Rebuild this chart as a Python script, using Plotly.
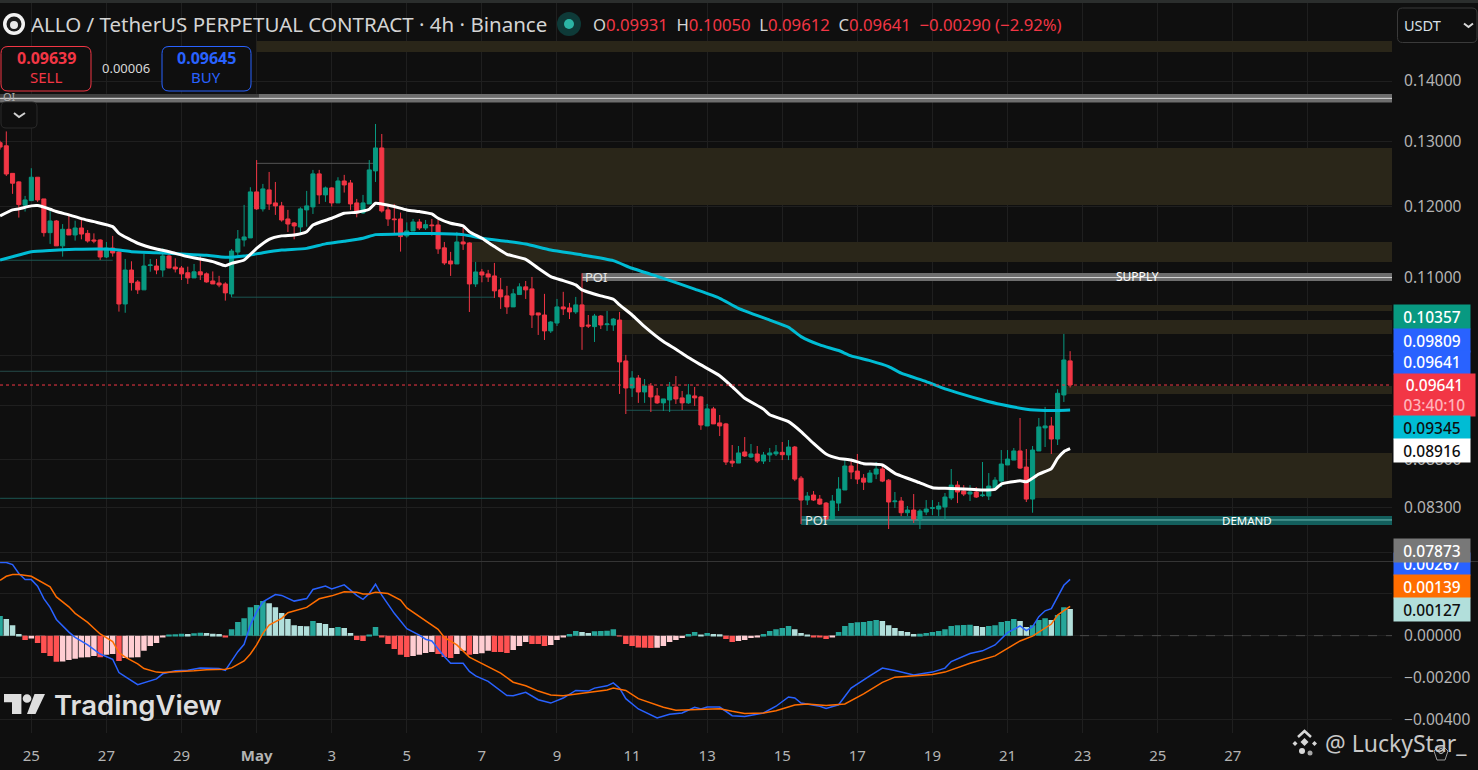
import numpy as np
import pandas as pd
import plotly.graph_objects as go

W, H = 1478, 770

# -----------------------------
# OHLC, 4h bars
# -----------------------------
opens = [
    0.1298, 0.1293, 0.1250, 0.1237, 0.12021, 0.12089, 0.12441, 0.12114, 0.11623, 0.11791,
    0.11436, 0.11671, 0.1159, 0.1169, 0.11613, 0.11519, 0.11519, 0.11281, 0.11406, 0.1135,
    0.10649, 0.11102, 0.10941, 0.10835, 0.11164, 0.11157, 0.11102, 0.11295, 0.11143, 0.1113,
    0.11065, 0.10995, 0.11078, 0.1105, 0.10954, 0.10927, 0.10914, 0.10781, 0.1135, 0.11519,
    0.11548, 0.12219, 0.11967, 0.12249, 0.12055, 0.12011, 0.1182, 0.11762, 0.11704, 0.11952,
    0.11996, 0.12492, 0.12174, 0.12279, 0.12055, 0.12384, 0.12354, 0.12055, 0.11908, 0.1204,
    0.12538, 0.12896, 0.11952, 0.1182, 0.1182, 0.11577, 0.11647, 0.11776, 0.1169, 0.11733,
    0.11733, 0.11408, 0.11226, 0.11185, 0.11491, 0.11477, 0.10914, 0.11076, 0.11049, 0.11022,
    0.10835, 0.10755, 0.10611, 0.10773, 0.10875, 0.10848, 0.10533, 0.10506, 0.10303, 0.10403,
    0.10611, 0.10598, 0.10546, 0.10637, 0.10378, 0.10357, 0.10493, 0.10382, 0.10378, 0.10441,
    0.0993, 0.09606, 0.09724, 0.09559, 0.0963, 0.09513, 0.09432, 0.09466, 0.09618, 0.0949,
    0.09432, 0.09513, 0.09501, 0.09169, 0.09363, 0.09203, 0.09192, 0.08782, 0.08761, 0.08881,
    0.08826, 0.08859, 0.08782, 0.08848, 0.0886, 0.08877, 0.08848, 0.08935, 0.086, 0.08372,
    0.08424, 0.08382, 0.08341, 0.08179, 0.08341, 0.08476, 0.08729, 0.08675, 0.086, 0.08558,
    0.08643, 0.08697, 0.08579, 0.08355, 0.08362, 0.08243, 0.0827, 0.08179, 0.0825, 0.08287,
    0.0828, 0.08301, 0.08393, 0.08527, 0.08465, 0.08434, 0.08455, 0.08417, 0.08413, 0.08496,
    0.08569, 0.0874, 0.08793, 0.08892, 0.08718, 0.08382, 0.08892, 0.09147, 0.09169, 0.09023,
    0.09524, 0.09931,
]
highs = [
    0.1301, 0.1316, 0.1250, 0.1238, 0.12159, 0.12579, 0.12441, 0.12114, 0.11942, 0.11805,
    0.11746, 0.11898, 0.11795, 0.11805, 0.11661, 0.11613, 0.11528, 0.11491, 0.11577, 0.11387,
    0.11254, 0.11222, 0.10967, 0.11323, 0.11254, 0.11254, 0.11401, 0.1136, 0.11263, 0.11157,
    0.11148, 0.11185, 0.11309, 0.11069, 0.11083, 0.11023, 0.10936, 0.11392, 0.11661, 0.12026,
    0.12289, 0.12706, 0.12339, 0.12522, 0.12369, 0.1207, 0.11952, 0.11776, 0.11991, 0.12234,
    0.12553, 0.12553, 0.12299, 0.12289, 0.12441, 0.12477, 0.12399, 0.12114, 0.12174, 0.12706,
    0.13281, 0.13119, 0.12025, 0.1204, 0.11913, 0.11771, 0.1182, 0.1182, 0.11805, 0.1182,
    0.11805, 0.11491, 0.11352, 0.11633, 0.1169, 0.11486, 0.11213, 0.11117, 0.11104, 0.11199,
    0.10994, 0.10888, 0.10848, 0.10923, 0.10954, 0.11008, 0.10533, 0.10782, 0.10428, 0.10715,
    0.10809, 0.10663, 0.10742, 0.11058, 0.10506, 0.1052, 0.10506, 0.10559, 0.10467, 0.10546,
    0.10004, 0.09808, 0.0976, 0.09712, 0.09665, 0.09606, 0.09478, 0.09677, 0.09748, 0.09571,
    0.09653, 0.09618, 0.09513, 0.0942, 0.09386, 0.09293, 0.09203, 0.08957, 0.08946, 0.09045,
    0.08968, 0.08946, 0.08881, 0.08924, 0.08957, 0.0899, 0.09012, 0.08946, 0.08622, 0.08455,
    0.08465, 0.08424, 0.08352, 0.08424, 0.08611, 0.08793, 0.08793, 0.08859, 0.08643, 0.08686,
    0.08772, 0.0874, 0.0859, 0.08455, 0.08403, 0.08311, 0.08434, 0.0828, 0.08372, 0.08372,
    0.08352, 0.08445, 0.08697, 0.08569, 0.08527, 0.08527, 0.08507, 0.08772, 0.08654, 0.08611,
    0.08902, 0.08902, 0.08924, 0.09259, 0.08913, 0.08946, 0.09259, 0.09386, 0.0927, 0.09591,
    0.10265, 0.1005,
]
lows = [
    0.1287, 0.1246, 0.1219, 0.1184, 0.11928, 0.12089, 0.1207, 0.11567, 0.11464, 0.11436,
    0.11286, 0.1159, 0.1151, 0.11528, 0.11482, 0.11473, 0.1124, 0.11267, 0.11286, 0.1055,
    0.10535, 0.10825, 0.10781, 0.10835, 0.11079, 0.11045, 0.1101, 0.11125, 0.11069, 0.10967,
    0.10914, 0.10995, 0.10967, 0.10932, 0.10914, 0.1087, 0.10693, 0.10737, 0.11309, 0.11427,
    0.11548, 0.11952, 0.11928, 0.11952, 0.11879, 0.11781, 0.11632, 0.11528, 0.11599, 0.11709,
    0.11893, 0.1204, 0.1207, 0.12001, 0.12055, 0.12209, 0.11952, 0.11844, 0.11893, 0.1204,
    0.12369, 0.11913, 0.11719, 0.11615, 0.11356, 0.11553, 0.11647, 0.11661, 0.11661, 0.11581,
    0.11324, 0.11172, 0.11022, 0.11185, 0.11379, 0.10545, 0.10874, 0.10936, 0.10941, 0.10728,
    0.10585, 0.1052, 0.10611, 0.10773, 0.10715, 0.1034, 0.10252, 0.10189, 0.10277, 0.10365,
    0.10506, 0.10454, 0.1052, 0.10066, 0.1034, 0.10164, 0.10327, 0.10303, 0.10303, 0.09536,
    0.09304, 0.09501, 0.09432, 0.09432, 0.09327, 0.0942, 0.0934, 0.09327, 0.0942, 0.0935,
    0.0942, 0.09397, 0.09125, 0.09169, 0.09192, 0.09056, 0.0874, 0.08718, 0.08761, 0.08826,
    0.08815, 0.08761, 0.08751, 0.08772, 0.08837, 0.08793, 0.08793, 0.08569, 0.08129, 0.08321,
    0.08362, 0.08321, 0.08169, 0.08179, 0.0826, 0.08476, 0.0859, 0.08538, 0.08476, 0.08558,
    0.0859, 0.08558, 0.0808, 0.08291, 0.08209, 0.08209, 0.0814, 0.0808, 0.08219, 0.08219,
    0.08209, 0.08169, 0.08372, 0.08341, 0.08413, 0.08362, 0.08393, 0.08403, 0.08372, 0.08496,
    0.08507, 0.0874, 0.08793, 0.08697, 0.08352, 0.08243, 0.08892, 0.08935, 0.08859, 0.08957,
    0.09443, 0.09612,
]
closes = [
    0.1291, 0.1249, 0.1235, 0.1203, 0.12099, 0.12441, 0.12099, 0.11623, 0.11791, 0.11436,
    0.11671, 0.1159, 0.1169, 0.11603, 0.11505, 0.11505, 0.11281, 0.11406, 0.11337, 0.10649,
    0.11102, 0.10932, 0.10835, 0.11157, 0.11171, 0.11102, 0.11295, 0.1113, 0.11116, 0.1105,
    0.10995, 0.11078, 0.11037, 0.10941, 0.10914, 0.109, 0.10795, 0.11364, 0.11533, 0.11562,
    0.12219, 0.11967, 0.12264, 0.1204, 0.12011, 0.11805, 0.11747, 0.11719, 0.11967, 0.12011,
    0.12492, 0.12174, 0.12279, 0.12055, 0.12384, 0.12324, 0.1204, 0.11908, 0.12055, 0.12553,
    0.12896, 0.11937, 0.1182, 0.1181, 0.11567, 0.11647, 0.11776, 0.1169, 0.11738, 0.11723,
    0.11394, 0.11199, 0.11185, 0.11491, 0.11463, 0.10914, 0.11076, 0.11035, 0.11008, 0.10822,
    0.10742, 0.10611, 0.10782, 0.10875, 0.10835, 0.10506, 0.10506, 0.10303, 0.10416, 0.10611,
    0.10585, 0.10546, 0.10637, 0.10357, 0.10365, 0.10493, 0.10378, 0.10391, 0.10454, 0.09918,
    0.09606, 0.09724, 0.09559, 0.0963, 0.09501, 0.09432, 0.09478, 0.09618, 0.09478, 0.09432,
    0.09525, 0.0949, 0.0918, 0.09363, 0.09192, 0.09169, 0.08772, 0.08761, 0.0887, 0.08837,
    0.08859, 0.08782, 0.08848, 0.0887, 0.08881, 0.08851, 0.08935, 0.0859, 0.08372, 0.08413,
    0.08372, 0.08331, 0.08179, 0.08362, 0.08486, 0.08729, 0.08665, 0.0859, 0.08558, 0.08654,
    0.08697, 0.08569, 0.08352, 0.08362, 0.08243, 0.0827, 0.08179, 0.0826, 0.0828, 0.08294,
    0.08311, 0.08403, 0.08527, 0.08455, 0.08434, 0.08455, 0.08403, 0.08424, 0.08517, 0.08579,
    0.0875, 0.08804, 0.08892, 0.08707, 0.08382, 0.08902, 0.09158, 0.09169, 0.09023, 0.09544,
    0.09942, 0.09641,
]

# moving averages: bar index + value at the bends of each line
white_bars = [0, 2, 3, 5, 6, 8, 9, 11, 13, 15, 18, 19, 22, 25, 27, 30, 34, 36, 37, 39,
              41, 43, 45, 47, 49, 50, 53, 55, 57, 59, 60, 61, 63, 65, 67, 69, 70, 72, 74, 75,
              77, 79, 81, 84, 86, 88, 90, 92, 93, 96, 98, 99, 101, 103, 106, 108, 110, 112, 115, 117,
              119, 122, 123, 126, 128, 130, 132, 134, 136, 138, 141, 143, 147, 149, 151, 155, 157, 159, 160, 163,
              164, 166, 168, 169, 170, 171]
white_vals = [0.11864, 0.11952, 0.11967, 0.12011, 0.12016, 0.11962, 0.11928, 0.11879, 0.11825, 0.11781,
              0.11709, 0.11613, 0.11473, 0.11392, 0.11355, 0.11286, 0.11217, 0.11162, 0.11194, 0.1124,
              0.11401, 0.11528, 0.11577, 0.1159, 0.11637, 0.11733, 0.1183, 0.11903, 0.11918, 0.11962,
              0.1205, 0.1204, 0.12001, 0.11952, 0.11928, 0.11893, 0.1183, 0.11757, 0.11719, 0.11637,
              0.11543, 0.11426, 0.11319, 0.11249, 0.11126, 0.11013, 0.10958, 0.10901, 0.10835, 0.10755,
              0.10711, 0.10637, 0.10506, 0.10357, 0.10169, 0.10074, 0.09971, 0.09882, 0.09752, 0.09622,
              0.09485, 0.0936, 0.09295, 0.09217, 0.09106, 0.08975, 0.08859, 0.08811, 0.08793, 0.08754,
              0.0874, 0.08651, 0.08551, 0.085, 0.08493, 0.08483, 0.08476, 0.08483, 0.08538, 0.08572,
              0.08562, 0.08643, 0.08701, 0.08811, 0.08884, 0.08916]
cyan_bars = [0, 3, 5, 8, 12, 16, 19, 21, 25, 29, 33, 36, 39, 42, 45, 49, 52, 55, 58, 60,
             64, 65, 69, 74, 77, 81, 84, 88, 93, 98, 101, 106, 111, 115, 118, 123, 126, 128, 131, 134,
             136, 139, 142, 144, 148, 151, 154, 157, 160, 164, 167, 169, 171]
cyan_vals = [0.1124, 0.11309, 0.11355, 0.11373, 0.11387, 0.11392, 0.11378, 0.11355, 0.11341, 0.11323,
             0.11304, 0.11277, 0.11295, 0.11341, 0.11378, 0.11401, 0.11464, 0.11501, 0.11543, 0.11595,
             0.11603, 0.1161, 0.1161, 0.11595, 0.11543, 0.11501, 0.11463, 0.11379, 0.1131, 0.11231,
             0.11126, 0.1099, 0.10845, 0.10724, 0.10593, 0.10441, 0.10349, 0.10231, 0.10127, 0.10058,
             0.09992, 0.09934, 0.09862, 0.09782, 0.09681, 0.09595, 0.09528, 0.09466, 0.09413, 0.0936,
             0.09345, 0.09345, 0.0935]

# -----------------------------
# MACD pane
# -----------------------------
macd_hist = [
    0.00093, 0.00079, 0.0005, 0.00008, -0.0002, -0.00014, -0.00035, -0.00082, -0.00096, -0.00124,
    -0.00123, -0.00115, -0.0011, -0.00104, -0.00102, -0.00096, -0.00102, -0.00091, -0.00087, -0.0012,
    -0.00106, -0.00104, -0.00102, -0.00072, -0.00049, -0.00035, -0.00008, 0.00002, 0.00007, 0.00009,
    0.00008, 0.00012, 0.00014, 0.00013, 0.00009, 0.00008, -0.00006, 0.00031, 0.00065, 0.00083,
    0.00135, 0.00145, 0.00164, 0.00154, 0.00135, 0.00107, 0.00079, 0.0005, 0.00046, 0.00045,
    0.00069, 0.0006, 0.00055, 0.00036, 0.00041, 0.00036, 0.00013, -0.0002, -0.00025, 0.00003,
    0.00041, -0.00006, -0.00039, -0.00063, -0.00091, -0.00101, -0.00096, -0.00091, -0.00082, -0.00077,
    -0.00087, -0.00101, -0.00106, -0.00087, -0.00072, -0.00091, -0.00087, -0.00083, -0.00072, -0.00077,
    -0.00078, -0.00082, -0.00068, -0.00049, -0.0003, -0.00039, -0.0004, -0.00049, -0.00044, -0.0002,
    -0.00008, 0.00008, 0.00022, 0.00017, 0.00013, 0.00021, 0.00022, 0.00023, 0.00031, -0.00002,
    -0.00039, -0.00049, -0.00056, -0.00057, -0.00058, -0.00057, -0.00049, -0.0003, -0.0002, -0.00011,
    0.00008, 0.00017, 0.00003, 0.00013, 0.00008, 0.00007, -0.00016, -0.0003, -0.00025, -0.0002,
    -0.00011, -0.00006, 0.00008, 0.00022, 0.00031, 0.00036, 0.00046, 0.00031, 0.00013, 0.00003,
    -0.00006, -0.00007, -0.00016, -0.00006, 0.00017, 0.00046, 0.0006, 0.00064, 0.00065, 0.00069,
    0.00074, 0.00069, 0.0005, 0.00036, 0.00022, 0.00017, 0.00008, 0.00009, 0.00013, 0.00017,
    0.00022, 0.00031, 0.00046, 0.0005, 0.00051, 0.00052, 0.00046, 0.00041, 0.00046, 0.0005,
    0.00065, 0.00069, 0.00079, 0.00069, 0.00041, 0.0005, 0.00074, 0.00083, 0.00074, 0.00098,
    0.00135, 0.00127,
]
macd_bars = [0, 1, 2, 3, 4, 5, 6, 7, 8, 9, 11, 12, 14, 16, 18, 19, 20, 22, 25, 26,
             28, 30, 32, 35, 36, 38, 39, 40, 41, 42, 44, 45, 47, 49, 50, 52, 53, 55, 57, 58,
             59, 60, 61, 63, 65, 67, 68, 69, 71, 72, 74, 75, 76, 78, 81, 82, 84, 86, 88, 90,
             92, 94, 95, 97, 98, 99, 100, 102, 105, 107, 109, 111, 112, 113, 115, 117, 119, 122, 124, 126,
             127, 128, 131, 132, 134, 136, 139, 141, 143, 146, 149, 151, 152, 155, 157, 159, 161, 163, 164, 165,
             166, 167, 168, 169, 170, 171]
macd_vals = [0.00347, 0.00347, 0.00337, 0.00295, 0.00266, 0.00266, 0.00235, 0.00176, 0.00134, 0.00077,
             0.00017, -0.00008, -0.00044, -0.00087, -0.00112, -0.00175, -0.00194, -0.00233, -0.00205, -0.00181,
             -0.00167, -0.00164, -0.00154, -0.00156, -0.00165, -0.00076, -0.00041, 0.0005, 0.00113, 0.00161,
             0.00195, 0.00191, 0.00164, 0.00176, 0.00219, 0.00235, 0.00222, 0.00241, 0.00191, 0.00172,
             0.002, 0.00244, 0.00192, 0.00106, 0.00033, 0.00003, -0.00017, -0.00025, -0.00099, -0.00131,
             -0.00131, -0.0017, -0.00191, -0.00217, -0.00284, -0.00285, -0.00269, -0.00304, -0.0032, -0.00296,
             -0.0026, -0.00263, -0.00249, -0.00238, -0.00224, -0.00249, -0.00299, -0.00348, -0.00391, -0.00373,
             -0.00367, -0.0034, -0.00348, -0.00339, -0.00339, -0.0038, -0.00384, -0.00367, -0.00335, -0.00291,
             -0.00296, -0.0032, -0.00335, -0.00345, -0.00328, -0.00249, -0.00191, -0.00154, -0.00165, -0.00187,
             -0.00173, -0.00154, -0.00123, -0.00085, -0.00072, -0.00044, 0.00014, 0.00046, 0.00024, 0.00043,
             0.0009, 0.00118, 0.00128, 0.00184, 0.00239, 0.00267]
signal_bars = [0, 1, 2, 3, 5, 6, 8, 9, 11, 12, 14, 15, 16, 18, 19, 20, 22, 23, 25, 26,
               29, 31, 33, 36, 37, 39, 40, 41, 42, 43, 45, 46, 49, 51, 53, 55, 57, 58, 59, 60,
               62, 64, 65, 68, 70, 71, 73, 75, 78, 80, 82, 84, 86, 88, 90, 92, 94, 97, 98, 100,
               102, 106, 108, 111, 115, 117, 119, 122, 124, 127, 129, 132, 135, 138, 141, 143, 146, 149, 151, 155,
               159, 163, 165, 168, 169, 171]
signal_vals = [0.00263, 0.00282, 0.0029, 0.0029, 0.00282, 0.00266, 0.00232, 0.00184, 0.00137, 0.00106,
               0.00063, 0.00035, 0.00008, -0.00028, -0.0008, -0.00102, -0.00134, -0.00156, -0.00173, -0.00175,
               -0.00172, -0.00167, -0.00162, -0.00159, -0.00153, -0.0012, -0.00087, -0.00044, 0.00011, 0.0005,
               0.00082, 0.00109, 0.00134, 0.00175, 0.00189, 0.00208, 0.00206, 0.00198, 0.00198, 0.00206,
               0.002, 0.00169, 0.00132, 0.00069, 0.0003, -0.00008, -0.00044, -0.00102, -0.00146, -0.00178,
               -0.00221, -0.00238, -0.00263, -0.00282, -0.00285, -0.00277, -0.00272, -0.00258, -0.00249, -0.0026,
               -0.00299, -0.0034, -0.00354, -0.00351, -0.00347, -0.00359, -0.00369, -0.00367, -0.00356, -0.00329,
               -0.00324, -0.00331, -0.00324, -0.00276, -0.00222, -0.00197, -0.00189, -0.00184, -0.00173, -0.00131,
               -0.00096, -0.00025, -0.00002, 0.00055, 0.00098, 0.00139]

# -----------------------------
# drawn zones and levels
# -----------------------------
zone_bars = [41, 61, 75, 93, 99, 170, 165]
zone_low = [0.14507, 0.12024, 0.11213, 0.10559, 0.10265, 0.09536, 0.08393]
zone_high = [0.14704, 0.12895, 0.1149, 0.10637, 0.10441, 0.0963, 0.08869]

level_price = [0.12655, 0.11236, 0.10738, 0.09805, 0.09347, 0.0839]
level_from = [41, 0, 37, 0, 100, 0]
level_to = [60, 18, 79, 99, 112, 128]
level_color = ["#555555", "#1b5552", "#1b5552", "#254b4a", "#1b5552", "#1b5552"]

price_ticks = [0.14, 0.13, 0.12, 0.11, 0.10, 0.094, 0.088, 0.083, 0.0785]
price_labels = ["0.14000", "0.13000", "0.12000", "0.11000", "", "", "0.08800", "0.08300", ""]
macd_ticks = [0.002, 0, -0.002, -0.004]
macd_labels = ["", "0.00000", "\u22120.00200", "\u22120.00400"]
date_ticks = ["2026-04-25", "2026-04-27", "2026-04-29", "2026-05-01", "2026-05-03", "2026-05-05",
              "2026-05-07", "2026-05-09", "2026-05-11", "2026-05-13", "2026-05-15", "2026-05-17",
              "2026-05-19", "2026-05-21", "2026-05-23", "2026-05-25", "2026-05-27", "2026-05-29"]
date_labels = ["25", "27", "29", "<b>May</b>", "3", "5", "7", "9", "11", "13", "15", "17",
               "19", "21", "23", "25", "27", ""]

BG = "#0f0f0f"
GRID = "#1f1f1f"
UP = "#089981"
DOWN = "#f23645"
FONT = "Noto Sans"

times = pd.date_range("2026-04-24 04:00", periods=len(opens), freq="4h")
x_range = ["2026-04-24 03:58", "2026-05-31 05:45"]


def px(x):
    return x / W


def py(y):
    return 1 - y / H


def hist_colors(values):
    colors = []
    prev = None
    for v in values:
        rising = prev is None or v > prev
        if v >= 0:
            colors.append("#26a69a" if rising else "#b2dfdb")
        else:
            colors.append("#ffcdd2" if rising else "#ff5252")
        prev = v
    return colors


def round_box(x0, y0, x1, y1, r):
    return (f"M {px(x0 + r)} {py(y0)} L {px(x1 - r)} {py(y0)} Q {px(x1)} {py(y0)} {px(x1)} {py(y0 + r)} "
            f"L {px(x1)} {py(y1 - r)} Q {px(x1)} {py(y1)} {px(x1 - r)} {py(y1)} "
            f"L {px(x0 + r)} {py(y1)} Q {px(x0)} {py(y1)} {px(x0)} {py(y1 - r)} "
            f"L {px(x0)} {py(y0 + r)} Q {px(x0)} {py(y0)} {px(x0 + r)} {py(y0)} Z")


def poly(points):
    return "M " + " L ".join(f"{px(x)} {py(y)}" for x, y in points)


fig = go.Figure()

fig.add_trace(go.Candlestick(
    x=times, open=opens, high=highs, low=lows, close=closes,
    increasing=dict(line=dict(color=UP, width=1), fillcolor=UP),
    decreasing=dict(line=dict(color=DOWN, width=1), fillcolor=DOWN),
    whiskerwidth=0, hoverinfo="skip", xaxis="x", yaxis="y",
))
fig.add_trace(go.Scatter(x=times[cyan_bars], y=cyan_vals, mode="lines",
                         line=dict(color="#00bcd4", width=3, shape="spline", smoothing=0.5),
                         hoverinfo="skip", xaxis="x", yaxis="y"))
fig.add_trace(go.Scatter(x=times[white_bars], y=white_vals, mode="lines",
                         line=dict(color="#ffffff", width=3, shape="spline", smoothing=0.5),
                         hoverinfo="skip", xaxis="x", yaxis="y"))

fig.add_trace(go.Bar(x=times, y=macd_hist, marker=dict(color=hist_colors(macd_hist), line_width=0),
                     hoverinfo="skip", xaxis="x2", yaxis="y2"))
fig.add_trace(go.Scatter(x=times[macd_bars], y=macd_vals, mode="lines", line=dict(color="#2962ff", width=1.5),
                         hoverinfo="skip", xaxis="x2", yaxis="y2"))
fig.add_trace(go.Scatter(x=times[signal_bars], y=signal_vals, mode="lines", line=dict(color="#ff6d00", width=1.5),
                         hoverinfo="skip", xaxis="x2", yaxis="y2"))

shapes = []
for bar, low, high in zip(zone_bars, zone_low, zone_high):
    shapes.append(dict(type="rect", xref="x", yref="y", x0=times[bar], x1=x_range[1], y0=low, y1=high,
                       fillcolor="#2a2619", line_width=0, layer="between"))
for price, start, end, color in zip(level_price, level_from, level_to, level_color):
    shapes.append(dict(type="line", xref="x", yref="y", x0=times[start], x1=times[end], y0=price, y1=price,
                       line=dict(color=color, width=1), layer="between"))

# thick POI bands
for bar, low, mid, high, fill, stroke in [
    (0, 0.13635, 0.13705, 0.1378, "#6e6e6e", "#d8d8d8"),
    (93, 0.10954, 0.1100, 0.11061, "#6e6e6e", "#d8d8d8"),
    (128, 0.0812, 0.0817, 0.0821, "#135f5d", "#6fbab4"),
]:
    shapes.append(dict(type="rect", xref="x", yref="y", x0=times[bar], x1=x_range[1], y0=low, y1=high,
                       fillcolor=fill, line_width=0, layer="between"))
    shapes.append(dict(type="line", xref="x", yref="y", x0=times[bar], x1=x_range[1], y0=mid, y1=mid,
                       line=dict(color=stroke, width=1), layer="between"))

# last price line and MACD zero line
shapes.append(dict(type="line", xref="x", yref="y", x0=x_range[0], x1=x_range[1], y0=0.09641, y1=0.09641,
                   line=dict(color=DOWN, width=1, dash="dot")))
shapes.append(dict(type="line", xref="x2", yref="y2", x0=x_range[0], x1=x_range[1], y0=0, y1=0,
                   line=dict(color="#4a4a4a", width=1, dash="dash"), layer="between"))


def box(x0, y0, x1, y1, fill="rgba(0,0,0,0)", line="rgba(0,0,0,0)", width=1):
    shapes.append(dict(type="rect", xref="paper", yref="paper", x0=px(x0), x1=px(x1), y0=py(y0), y1=py(y1),
                       fillcolor=fill, line=dict(color=line, width=width)))


def outline(path, fill="rgba(0,0,0,0)", line="rgba(0,0,0,0)", width=1):
    shapes.append(dict(type="path", xref="paper", yref="paper", path=path, fillcolor=fill,
                       line=dict(color=line, width=width)))


def circle(cx, cy, rx, fill, line="rgba(0,0,0,0)", width=0):
    shapes.append(dict(type="circle", xref="paper", yref="paper", x0=px(cx - rx), x1=px(cx + rx),
                       y0=py(cy + rx), y1=py(cy - rx), fillcolor=fill, line=dict(color=line, width=width)))


box(0, 0, W, 3, fill="#2b2e2d")
box(0, 561, W, 562, fill="#353535")
box(0, 93.5, 259, 97.5, fill="rgba(15,15,15,0.5)")

# legend icons and buttons
circle(14, 24, 11, "#f2f2f2")
circle(14, 24, 7.5, "#1a1a1a")
circle(14, 25, 4, "#e8e8e8")
circle(569, 24, 12, "#0e3a38")
circle(569, 24, 5, "#2bb5a5")
outline(round_box(1, 46.5, 91, 91, 7), fill=BG, line=DOWN)
outline(round_box(162, 46.5, 251, 91, 7), fill=BG, line="#2962ff")
outline(round_box(1, 102, 37, 128, 5), fill=BG, line="#2b2b2b")
outline(poly([(14, 113), (19, 117), (25, 113)]), line="#d0d0d0", width=2)
outline(round_box(1397.5, 8, 1477, 42.5, 5), fill=BG, line="#3a3a3a")
outline(poly([(1464, 23.5), (1468.5, 27), (1473, 23.5)]), line="#d8d8d8", width=2)

# TradingView mark
logo = "#dedede"
outline(poly([(4, 694), (21.4, 694), (21.4, 714), (12, 714), (12, 702.3), (4, 702.3)]) + " Z", fill=logo)
circle(27, 698.5, 4.3, logo)
outline(poly([(34.5, 694), (45, 694), (35.5, 714), (27, 714)]) + " Z", fill=logo)

# Binance mark of the watermark
mark = "#d8d8d8"
for cx, cy, r in [(1304.5, 742, 4), (1295, 743.5, 2.5), (1314.5, 743.5, 2.5)]:
    outline(poly([(cx - r, cy), (cx, cy - r), (cx + r, cy), (cx, cy + r)]) + " Z", fill=mark)
outline(poly([(1298, 737), (1304.5, 731), (1311, 737)]), line=mark, width=2.5)
circle(1302, 751, 3, mark)
circle(1310, 753, 2.5, "#a8a8a8")
outline(poly([(1434, 751), (1438, 747), (1444, 747), (1448, 751), (1445, 760), (1437, 760)]) + " Z",
        line="#9a9a9a", width=1)
circle(1441, 751, 2.5, "rgba(0,0,0,0)", line="#c8c8c8", width=1)

annotations = []


def note(text, x, y, size, color, anchor="left", family=FONT, weight="normal"):
    annotations.append(dict(xref="paper", yref="paper", x=px(x), y=py(y), text=text, showarrow=False,
                            xanchor=anchor, yanchor="middle",
                            font=dict(family=family, size=size, color=color, weight=weight)))


def tag(text, top, bottom, fill, color, right=1469):
    annotations.append(dict(xref="paper", yref="paper", x=px(1393), y=py(top), xanchor="left", yanchor="top",
                            width=right - 1393, height=bottom - top, bgcolor=fill, text=text, showarrow=False,
                            align="center", borderpad=0, font=dict(family=FONT, size=15.5, color=color, weight=500)))


note("ALLO / TetherUS PERPETUAL CONTRACT · 4h · Binance", 29, 24, 20.5, "#d4d4d4")
red = "#f23645"
legend_text = "".join(f"{k}<span style='color:{red}'>{v} </span> " for k, v in
                      [("O", "0.09931"), ("H", "0.10050"), ("L", "0.09612"), ("C", "0.09641")])
note(legend_text + f"<span style='color:{red}'>\u22120.00290 (\u22122.92%)</span>", 591, 24, 16.7, "#d4d4d4")
note("<b>0.09639</b>", 46, 58, 16, DOWN, "center")
note("SELL", 46, 77, 15, DOWN, "center")
note("0.00006", 126, 68, 13, "#d8d8d8", "center")
note("<b>0.09645</b>", 206, 58, 16, "#2962ff", "center")
note("BUY", 206, 77, 15, "#2962ff", "center")
note("USDT", 1402, 25, 14.5, "#d8e0e8")
note("OI", 1, 97, 11, "#b0b0b0")
note("POI", 583, 276.5, 13, "#e6e6e6")
note("SUPPLY", 1137, 277, 12, "#ffffff", "center")
note("POI", 803, 520, 13, "#e6e6e6")
note("DEMAND", 1247, 520, 11.5, "#ffffff", "center")
note("TradingView", 52, 705, 27.5, logo, family="Inter", weight=600)
note("@ LuckyStar_", 1323, 743, 23, "#c8c8c8")

tag("0.10357", 304, 327.5, UP, "#ffffff")
tag("0.09809", 327.5, 350.5, "#2962ff", "#ffffff")
tag("0.09641", 350.5, 373, "#2962ff", "#ffffff")
tag("0.09641<br><span style='color:#ffb3ba'>03:40:10</span>", 373, 415, DOWN, "#ffffff", right=1474)
tag("0.09345", 415, 438, "#00bcd4", "#0f0f0f")
tag("0.08916", 438, 461, "#ffffff", "#0f0f0f")
tag("0.00267", 552, 574, "#2962ff", "#ffffff")
tag("0.07873", 538, 561, "#787878", "#ffffff")
tag("0.00139", 574, 597, "#ff6d00", "#ffffff")
tag("0.00127", 597, 620, "#b2dfdb", "#0f0f0f")

fig.update_layout(
    width=W, height=H, margin=dict(l=0, r=0, t=0, b=0),
    paper_bgcolor=BG, plot_bgcolor=BG, showlegend=False,
    font=dict(family=FONT, color="#b4b4b4"),
    boxgap=0.35, boxgroupgap=0, bargap=0.12,
    shapes=shapes, annotations=annotations,
    xaxis=dict(domain=[0, px(1392)], range=x_range, type="date", rangeslider_visible=False, anchor="y",
               tickmode="array", tickvals=date_ticks, showticklabels=False, gridcolor=GRID, zeroline=False,
               ticks=""),
    xaxis2=dict(domain=[0, px(1392)], range=x_range, type="date", matches="x", anchor="y2",
                tickmode="array", tickvals=date_ticks, ticktext=date_labels, gridcolor=GRID, zeroline=False,
                ticks="outside", ticklen=9, tickcolor=BG, tickfont=dict(size=15, color="#b4b4b4")),
    yaxis=dict(domain=[py(561.5), 1], type="log", range=[np.log10(0.07764), np.log10(0.15463)], side="right",
               anchor="x", tickmode="array", tickvals=price_ticks, ticktext=price_labels, gridcolor=GRID,
               zeroline=False, ticks="outside", ticklen=8, tickcolor=BG, tickfont=dict(size=15.5, color="#b4b4b4")),
    yaxis2=dict(domain=[py(733), py(561.5)], range=[-0.00462, 0.00352], side="right", anchor="x2",
                tickmode="array", tickvals=macd_ticks, ticktext=macd_labels, gridcolor=GRID, zeroline=False,
                ticks="outside", ticklen=8, tickcolor=BG, tickfont=dict(size=15.5, color="#b4b4b4")),
)

fig.write_html("out.html", config=dict(displayModeBar=False),
               post_script="document.body.style.margin='0';document.body.style.overflow='hidden';")
